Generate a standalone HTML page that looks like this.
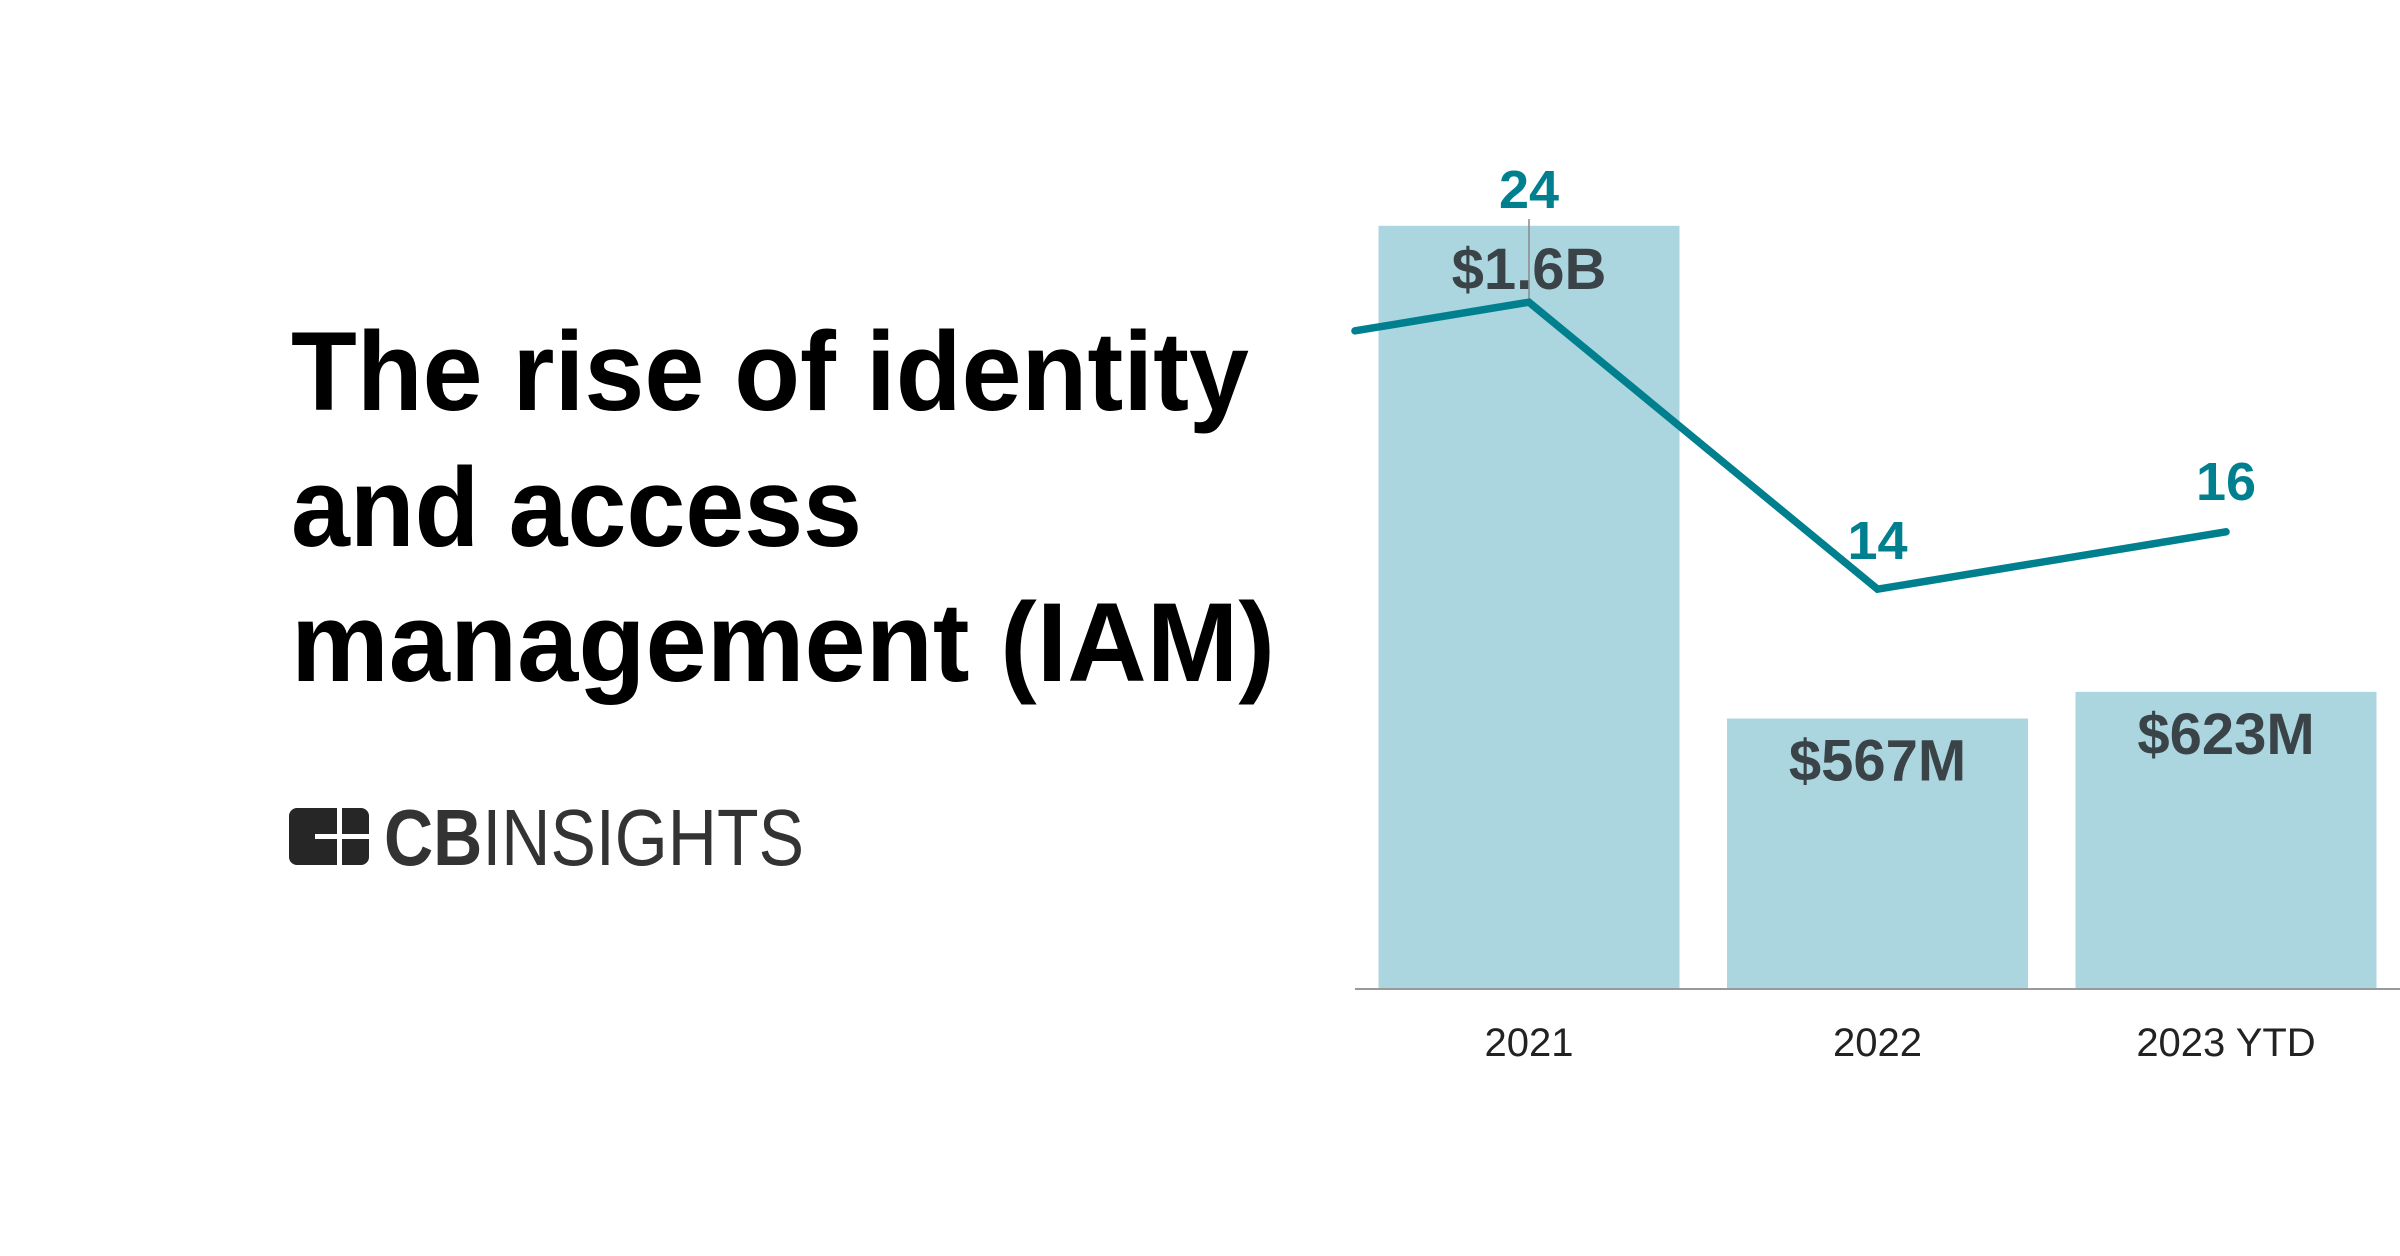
<!DOCTYPE html>
<html><head><meta charset="utf-8"><style>
html,body{margin:0;padding:0;background:#fff;}
svg{display:block;font-family:"Liberation Sans",sans-serif;}
</style></head><body>
<svg id="chart" width="2400" height="1256" viewBox="0 0 2400 1256">
  <rect width="2400" height="1256" fill="#fff"/>
  <g font-weight="bold" font-size="112" fill="#000">
    <text x="291" y="410" textLength="958" lengthAdjust="spacingAndGlyphs">The rise of identity</text>
    <text x="291" y="546" textLength="571" lengthAdjust="spacingAndGlyphs">and access</text>
    <text x="291" y="681" textLength="984" lengthAdjust="spacingAndGlyphs">management (IAM)</text>
  </g>
  <g>
    <rect x="289" y="808" width="80" height="57" rx="8" fill="#262626"/>
    <rect x="337" y="808" width="5" height="57" fill="#fff"/>
    <rect x="315" y="834" width="54" height="5" fill="#fff"/>
    <text x="384" y="865" font-size="80" fill="#333" textLength="420" lengthAdjust="spacingAndGlyphs"><tspan font-weight="bold">CB</tspan><tspan font-weight="normal">INSIGHTS</tspan></text>
  </g>
  <g id="plot"></g>
</svg>
<script>
const categories = ["2021", "2022", "2023 YTD"];
const fundingValues = [1600, 567, 623];
const fundingLabels = ["$1.6B", "$567M", "$623M"];
const dealCounts = [24, 14, 16];
const priorDealCount = 22;

const NS = "http://www.w3.org/2000/svg";
const plot = document.getElementById("plot");
const baseY = 989;
const xCenter = i => 1529 + i * 348.5;
const barW = 301;
const yBar = v => baseY - v * 0.477;
const yLine = v => 991 - v * 28.7;
function mk(tag, attrs) {
  const e = document.createElementNS(NS, tag);
  for (const k in attrs) e.setAttribute(k, attrs[k]);
  plot.appendChild(e);
  return e;
}
categories.forEach((c, i) => {
  const b = mk("rect", {x: xCenter(i) - barW / 2, y: yBar(fundingValues[i]), width: barW, height: baseY - yBar(fundingValues[i]), fill: "#acd6df"});
  
  
  const t = mk("text", {x: xCenter(i), y: 1056, "font-size": 40, fill: "#222", "text-anchor": "middle"});
  t.textContent = c;
  
  
});
const axis = mk("line", {x1: 1355, x2: 2400, y1: baseY, y2: baseY, stroke: "#999", "stroke-width": 2});


const tick = mk("line", {x1: xCenter(0), x2: xCenter(0), y1: 219, y2: yLine(dealCounts[0]), stroke: "#888", "stroke-width": 1.5});


// funding value labels
categories.forEach((c, i) => {
  const top = yBar(fundingValues[i]);
  const ly = i === 0 ? top + 63 : top + 62;
  const t = mk("text", {x: xCenter(i), y: ly, "font-size": 58, "font-weight": "bold", fill: "#3a4347", "text-anchor": "middle"});
  t.textContent = fundingLabels[i];
  
  
});
// deal count line (starts from a partial segment at the left edge)
const x0 = xCenter(-1), y0 = yLine(priorDealCount);
const x1 = xCenter(0), y1 = yLine(dealCounts[0]);
const clipX = 1355;
const cy = y0 + (y1 - y0) * (clipX - x0) / (x1 - x0);
let d = "M" + clipX + "," + cy;
dealCounts.forEach((v, i) => { d += " L" + xCenter(i) + "," + yLine(v); });
const path = mk("path", {d: d, fill: "none", stroke: "#00808f", "stroke-width": 7.5, "stroke-linejoin": "miter", "stroke-linecap": "round"});


const offs = [-94, -30, -32];
dealCounts.forEach((v, i) => {
  const t = mk("text", {x: xCenter(i), y: yLine(v) + offs[i], "font-size": 54, "font-weight": "bold", fill: "#00808f", "text-anchor": "middle"});
  t.textContent = v;
  
  
});
</script>
</body></html>
